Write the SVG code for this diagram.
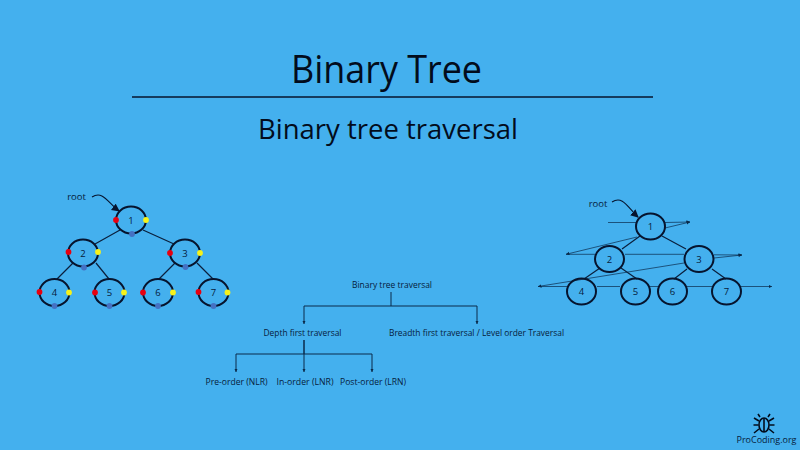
<svg xmlns="http://www.w3.org/2000/svg" width="800" height="450" viewBox="0 0 800 450">
<style>
text{font-family:"Open Sans","Noto Sans","Liberation Sans",sans-serif;fill:#06203c;text-anchor:middle}
.t{fill:#020c1c}
.l{font-size:8.300px}
.n{font-size:9.500px}
.c{fill:none;stroke:#06142e;stroke-width:2}
.e{stroke:#0a1f3c;stroke-width:1.200;fill:none}
.a{stroke:#0a2a4a;stroke-width:.7;fill:none;marker-end:url(#ah)}
.b{stroke:#0a2a4a;stroke-width:1;fill:none}
.ba{stroke:#0a2a4a;stroke-width:1;fill:none;marker-end:url(#ah2)}
.r{fill:#e8000f}.y{fill:#f6f21a}.p{fill:#4472c4}
</style>
<defs>
<marker id="ah" markerWidth="6" markerHeight="6" refX="5" refY="2.500" orient="auto"><path d="M0 0L5 2.500L0 5Z" fill="#0a2a4a"/></marker>
<marker id="ah2" markerWidth="5" markerHeight="5" refX="3.500" refY="1.750" orient="auto"><path d="M0 0L3.500 1.750L0 3.500Z" fill="#0a2a4a"/></marker>
<marker id="ah3" markerWidth="9" markerHeight="9" refX="7" refY="4" orient="auto" markerUnits="userSpaceOnUse"><path d="M0 0L8 4L0 8Z" fill="#06142e"/></marker>
</defs>
<rect width="800" height="450" fill="#44b0ee"/>
<g id="title">
<text class="t" x="386.500" y="83" font-size="38" textLength="191" lengthAdjust="spacingAndGlyphs">Binary Tree</text>
<line x1="132" y1="97" x2="653" y2="97" stroke="#06142e" stroke-width="1.300"/>
<text class="t" x="388" y="139" font-size="27.500" textLength="260" lengthAdjust="spacingAndGlyphs">Binary tree traversal</text>
</g>
<g id="connectors">
<path class="e" d="M120 230L95 244M143 230L174 244M73 263L57 279M96 263L109 279M175 263L159 279M197 263L213 279"/>
<path class="e" d="M640 236L622 249M662 236L686 249M600 268L584 279M621 268L637 279M687 269L674 279M712 269L726 279"/>
<path class="a" d="M608 222.500L636 222.500M665 222.500L690 222"/>
<path class="a" d="M665 228L690 222"/>
<path class="a" d="M637 237L566 254.300"/>
<path class="a" d="M595 254.300L566 254.300M625 254.300L684 254.300M714 254.800L742 255"/>
<path class="a" d="M684 263L538 286.500"/>
<path class="a" d="M714 258L742 255"/>
<path class="a" d="M567 286.500L538 286.500M597 286.500L620 286.500M650 286.500L658 286.500M687 286.500L712 286.500M741 286.500L772 286.500"/>
<path class="b" d="M391 292V306M304 306H477"/>
<path class="ba" d="M304 306V324"/>
<path class="ba" d="M477 306V324"/>
<path class="b" d="M304 340V354M236 354H372"/>
<path class="ba" d="M236 354V372"/>
<path class="ba" d="M304 340V372"/>
<path class="ba" d="M372 354V372"/>
<path d="M92 197C103 190 108 203 119 211" fill="none" stroke="#06142e" stroke-width="1.100" marker-end="url(#ah3)"/>
<path d="M612 202C623 195 628 208 638 217" fill="none" stroke="#06142e" stroke-width="1.100" marker-end="url(#ah3)"/>
</g>
<g id="labels">
<text x="76.500" y="200" font-size="9.500">root</text>
<text x="598" y="207" font-size="9.500">root</text>
</g>
<g id="L1"><ellipse class="c" cx="131" cy="220" rx="15" ry="13.500"/><text class="n" x="131" y="223.500">1</text><circle class="r" cx="116" cy="220" r="2.900"/><circle class="y" cx="146" cy="220" r="2.900"/><circle class="p" cx="132" cy="234" r="2.900"/></g>
<g id="L2"><ellipse class="c" cx="83" cy="253" rx="15" ry="13.500"/><text class="n" x="83" y="256.500">2</text><circle class="r" cx="68.500" cy="252" r="2.900"/><circle class="y" cx="98" cy="252" r="2.900"/><circle class="p" cx="84" cy="267.500" r="2.900"/></g>
<g id="L3"><ellipse class="c" cx="185" cy="253" rx="15" ry="13.500"/><text class="n" x="185" y="256.500">3</text><circle class="r" cx="170" cy="253" r="2.900"/><circle class="y" cx="200" cy="253" r="2.900"/><circle class="p" cx="185.500" cy="267" r="2.900"/></g>
<g id="L4"><ellipse class="c" cx="54.500" cy="292.500" rx="15" ry="13.500"/><text class="n" x="54.500" y="296">4</text><circle class="r" cx="39.500" cy="292" r="2.900"/><circle class="y" cx="69" cy="292.500" r="2.900"/><circle class="p" cx="54.500" cy="306" r="2.900"/></g>
<g id="L5"><ellipse class="c" cx="109.500" cy="292.500" rx="15" ry="13.500"/><text class="n" x="109.500" y="296">5</text><circle class="r" cx="95" cy="292.500" r="2.900"/><circle class="y" cx="124" cy="292.500" r="2.900"/><circle class="p" cx="109.500" cy="306" r="2.900"/></g>
<g id="L6"><ellipse class="c" cx="158" cy="292.500" rx="15" ry="13.500"/><text class="n" x="158" y="296">6</text><circle class="r" cx="143" cy="292.500" r="2.900"/><circle class="y" cx="173" cy="292.500" r="2.900"/><circle class="p" cx="158" cy="306" r="2.900"/></g>
<g id="L7"><ellipse class="c" cx="213.500" cy="292.500" rx="15" ry="13.500"/><text class="n" x="213.500" y="296">7</text><circle class="r" cx="198.500" cy="292" r="2.900"/><circle class="y" cx="227.500" cy="292.500" r="2.900"/><circle class="p" cx="213.500" cy="306" r="2.900"/></g>
<g id="R1"><ellipse class="c" cx="650.500" cy="226.500" rx="14.500" ry="13"/><text class="n" x="650.500" y="230">1</text></g>
<g id="R2"><ellipse class="c" cx="609.500" cy="259" rx="14.500" ry="13"/><text class="n" x="609.500" y="262.500">2</text></g>
<g id="R3"><ellipse class="c" cx="699" cy="259" rx="14.500" ry="13"/><text class="n" x="699" y="262.500">3</text></g>
<g id="R4"><ellipse class="c" cx="581.500" cy="291.500" rx="14.500" ry="13"/><text class="n" x="581.500" y="295">4</text></g>
<g id="R5"><ellipse class="c" cx="635.500" cy="291.500" rx="14.500" ry="13"/><text class="n" x="635.500" y="295">5</text></g>
<g id="R6"><ellipse class="c" cx="672.500" cy="291.500" rx="14.500" ry="13"/><text class="n" x="672.500" y="295">6</text></g>
<g id="R7"><ellipse class="c" cx="726.500" cy="291.500" rx="14.500" ry="13"/><text class="n" x="726.500" y="295">7</text></g>
<g id="hierarchy">
<text class="l" x="392" y="287.500" textLength="80" lengthAdjust="spacingAndGlyphs">Binary tree traversal</text>
<text class="l" x="302.500" y="335.500" textLength="78" lengthAdjust="spacingAndGlyphs">Depth first traversal</text>
<text class="l" x="476.500" y="335.500" textLength="175" lengthAdjust="spacingAndGlyphs">Breadth first traversal / Level order Traversal</text>
<text class="l" x="236.500" y="384.500" textLength="62" lengthAdjust="spacingAndGlyphs">Pre-order (NLR)</text>
<text class="l" x="305" y="384.500" textLength="57" lengthAdjust="spacingAndGlyphs">In-order (LNR)</text>
<text class="l" x="373" y="384.500" textLength="66" lengthAdjust="spacingAndGlyphs">Post-order (LRN)</text>
</g>
<g id="logo">
<text x="766.500" y="443" font-size="8.700" textLength="60" lengthAdjust="spacingAndGlyphs">ProCoding.org</text>
<ellipse cx="764" cy="425" rx="5" ry="7" fill="none" stroke="#020c1c" stroke-width="1.600"/>
<path d="M764 418V432M760 417L758 414M768 417L770 414M759 421L754 418M769 421L774 418M758.500 425H753.500M769.500 425H774.500M759 429L754 433M769 429L774 433" fill="none" stroke="#020c1c" stroke-width="1.600"/>
</g>
</svg>
